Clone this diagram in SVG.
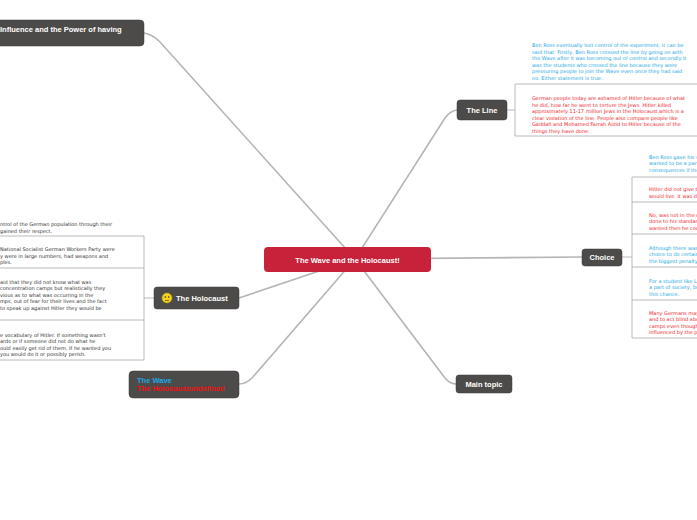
<svg xmlns="http://www.w3.org/2000/svg" width="697" height="520" viewBox="0 0 697 520">
<style>
.n{fill:#4d4b49;stroke:#3a3938;stroke-width:.5}
.nt{font-family:"Liberation Sans",Arial,sans-serif;font-size:7.5px;font-weight:bold;fill:#fff}
.s{font-family:"DejaVu Sans",Verdana,sans-serif;font-size:5px}
.b{fill:#1ea7e6}.r{fill:#f0262c}.k{fill:#333}
.c{fill:none;stroke:#b5b5b5;stroke-width:1.6}
.bx{fill:none;stroke:#a8a8a8;stroke-width:.8}
</style>
<rect width="697" height="520" fill="#fff"/>
<g id="connectors">
<path class="c" d="M355 259 L160 42 Q152 34 144 33"/>
<path class="c" d="M355 259 L445 118 Q450 111 457 110"/>
<path class="c" d="M355 259 L582 257"/>
<path class="c" d="M355 259 L239 298"/>
<path class="c" d="M355 259 L252 378 Q246 384 239 384"/>
<path class="c" d="M355 259 L445 378 Q450 384 456 384"/>
<path class="bx" d="M507 110 H515 M515 84 V136 M515 84 H697 M515 136 H697"/>
<path class="bx" d="M622 257 H632 M632 177 V338 M632 177 H697 M632 202 H697 M632 234 H697 M632 267 H697 M632 300 H697 M632 338 H697"/>
<path class="bx" d="M154 298 H144 M144 236 V360 M0 236 H144 M0 268 H144 M0 320 H144 M0 360 H144"/>
</g>
<g id="root"><rect x="264" y="247" width="167" height="25" rx="4" fill="#c8213a"/><text x="347.5" y="263" text-anchor="middle" class="nt" font-size="8.5">The Wave and the Holocaust!</text></g>
<g id="influence"><rect class="n" x="-10" y="20" width="154" height="26" rx="4"/><text x="0" y="32" class="nt">Influence and the Power of having</text></g>
<g id="line"><rect class="n" x="457" y="100" width="50" height="20" rx="3"/><text x="482" y="113" text-anchor="middle" class="nt">The Line</text>
<text class="s b"><tspan x="532" y="47">Ben Ross eventually lost control of the experiment, it can be</tspan><tspan x="532" y="53.5">said that; Firstly, Ben Ross crossed the line by going on with</tspan><tspan x="532" y="60">the Wave after it was becoming out of control and secondly it</tspan><tspan x="532" y="66.5">was the students who crossed the line because they were</tspan><tspan x="532" y="73">pressuring people to join the Wave even once they had said</tspan><tspan x="532" y="79.5">no. Either statement is true.</tspan></text>
<text class="s r"><tspan x="532" y="100">German people today are ashamed of Hitler because of what</tspan><tspan x="532" y="107">he did, how far he went to torture the Jews. Hitler killed</tspan><tspan x="532" y="113">approximately 11-17 million Jews in the Holocaust,which is a</tspan><tspan x="532" y="120">clear violation of the line. People also compare people like</tspan><tspan x="532" y="126">Gaddafi and Mohamed Farrah Aidid to Hitler because of the</tspan><tspan x="532" y="133">things they have done.</tspan></text></g>
<g id="choice"><rect class="n" x="582" y="249" width="40" height="17" rx="3"/><text x="602" y="260" text-anchor="middle" class="nt">Choice</text>
<text class="s b"><tspan x="649" y="159">Ben Ross gave his students a choice of whether they</tspan><tspan x="649" y="165">wanted to be a part of the Wave or face the</tspan><tspan x="649" y="172">consequences if they did not.</tspan></text>
<text class="s r"><tspan x="649" y="191">Hitler did not give the Jews a choice of whether they</tspan><tspan x="649" y="198">would live, it was decided for them.</tspan></text>
<text class="s r"><tspan x="649" y="217">No, was not in the choice, people who did not</tspan><tspan x="649" y="223">done to his standards and did not do what he</tspan><tspan x="649" y="230">wanted then he could get rid of them.</tspan></text>
<text class="s b"><tspan x="649" y="250">Although there was a</tspan><tspan x="649" y="256">choice to do certain things,</tspan><tspan x="649" y="263">the biggest penalty.</tspan></text>
<text class="s b"><tspan x="649" y="283">For a student like Laurie, she could choose to be</tspan><tspan x="649" y="289">a part of society, but she was still given</tspan><tspan x="649" y="296">this chance.</tspan></text>
<text class="s r"><tspan x="649" y="315">Many Germans may have had a choice</tspan><tspan x="649" y="321">and to act blind about the concentration</tspan><tspan x="649" y="328">camps even though they were</tspan><tspan x="649" y="334">influenced by the propaganda.</tspan></text></g>
<g id="holocaust"><rect class="n" x="154" y="287" width="85" height="22" rx="3"/><circle cx="167" cy="298" r="5" fill="#f4d21f" stroke="#b89a10" stroke-width=".5"/><circle cx="165.3" cy="297" r=".8" fill="#333"/><circle cx="168.7" cy="297" r=".8" fill="#333"/><path d="M165 300.5 H169" stroke="#333" stroke-width=".6"/><text x="176" y="301" class="nt">The Holocaust</text>
<text class="s k"><tspan x="0" y="226">ntrol of the German population through their</tspan><tspan x="0" y="233">gained their respect.</tspan></text>
<text class="s k"><tspan x="0" y="251">National Socialist German Workers Party were</tspan><tspan x="0" y="258">y were in large numbers, had weapons and</tspan><tspan x="0" y="264">ples.</tspan></text>
<text class="s k"><tspan x="0" y="284">aid that they did not know what was</tspan><tspan x="0" y="290">concentration camps but realistically they</tspan><tspan x="0" y="297">vious as to what was occurring in the</tspan><tspan x="0" y="303">mps, out of fear for their lives and the fact</tspan><tspan x="0" y="310">to speak up against Hitler they would be</tspan></text>
<text class="s k"><tspan x="0" y="337">e vocabulary of Hitler. If something wasn't</tspan><tspan x="0" y="343">ards or if someone did not do what he</tspan><tspan x="0" y="350">ould easily get rid of them. If he wanted you</tspan><tspan x="0" y="356">you would do it or possibly perish.</tspan></text></g>
<g id="wave"><rect class="n" x="129" y="371" width="110" height="27" rx="4"/><text x="137" y="383" class="nt" style="fill:#1ea7e6">The Wave</text><text x="137" y="391" class="nt" style="fill:#f01010">The Holocaustundefined</text></g>
<g id="main"><rect class="n" x="456" y="375" width="56" height="18" rx="3"/><text x="484" y="387" text-anchor="middle" class="nt">Main topic</text></g>
</svg>
